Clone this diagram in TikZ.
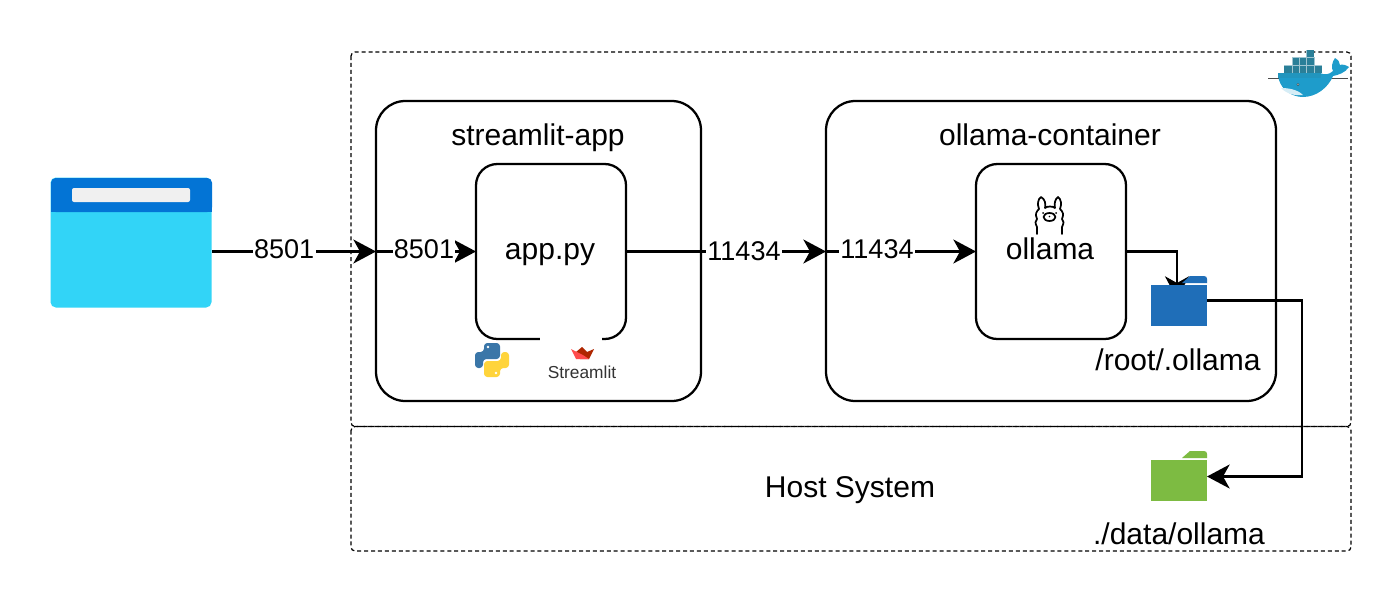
\documentclass[tikz,border=0pt]{standalone}
\usepackage{fontspec}
\setmainfont{Liberation Sans}
\usetikzlibrary{arrows.meta,calc}
\definecolor{dkb}{HTML}{0374D5}
\definecolor{ltb}{HTML}{32D4F7}
\definecolor{fblue}{HTML}{1F6EB8}
\definecolor{fgreen}{HTML}{7DBB42}
\definecolor{whale}{HTML}{1E9CCB}
\definecolor{crate}{HTML}{2A7F98}
\definecolor{pyb}{HTML}{3A76A8}
\definecolor{pyy}{HTML}{FFD43B}
\tikzset{
 x=0.75pt,y=-0.75pt,
 boundary/.style={draw,line width=0.9pt,rounded corners=3pt,dash pattern=on 3pt off 2.2pt},
 bigbox/.style={draw,line width=1.7pt,rounded corners=22pt,inner sep=0pt},
 smallbox/.style={draw,line width=1.7pt,rounded corners=16pt,inner sep=0pt},
 lbl/.style={font=\fontsize{22.5}{26}\selectfont,inner sep=0pt,text height=16pt,text depth=4.5pt},
 port/.style={font=\fontsize{20.3}{24}\selectfont,inner sep=0pt,text height=14.5pt,text depth=4pt,fill=white,inner xsep=1pt},
 conn/.style={line width=1.55pt,-{Stealth[length=17pt,width=18pt,inset=5pt]}},
}
\newcommand{\boxat}[6]{\node[#1,minimum width=#4*0.75pt,minimum height=#5*0.75pt] (#6) at (#2,#3) {};}
\begin{document}
\begin{tikzpicture}
\useasboundingbox (0,0) rectangle (1400,600);
\fill[white] (0,0) rectangle (1400,600);
% dashed areas
\draw[boundary] (351,52) rectangle (1351,426.5);
\draw[boundary] (351,426.5) rectangle (1351,551);
% boxes
\boxat{bigbox}{538.5}{251}{325}{300}{sapp}
\boxat{smallbox}{551}{251.5}{150}{175}{apppy}
\boxat{bigbox}{1051}{251}{450}{300}{ocont}
\boxat{smallbox}{1051}{251.5}{150}{175}{oll}
\fill[white] (540,334) rectangle (602,346);
\node[lbl] (tapp) at (538,137.5) {streamlit-app};
\node[lbl] (tcont) at (1050,137.5) {ollama-container};
\node[lbl] (tpy) at (550,252) {app.py};
\node[lbl] (toll) at (1050,252) {ollama};
\node[lbl] (thost) at (850,490) {Host System};
\node[lbl] (troot) at (1178,362.5) {/root/.ollama};
\node[lbl] (tdata) at (1179,536.5) {./data/ollama};
% browser
\node[fill=ltb,rounded corners=4pt,minimum width=120.75pt,minimum height=97.5pt,inner sep=0pt] (browser) at (131,242.5) {};
\fill[dkb,rounded corners=3.5pt] (51,212) -- (51,178) -- (212,178) -- (212,212) -- cycle;
\fill[dkb] (51,200) rectangle (212,212);
\fill[white!94!black,rounded corners=1.5pt] (72,188) rectangle (190,202);
% connectors
\coordinate (b1) at (212,251.5);
\coordinate (s1) at (376,251.5);
\coordinate (a1) at (476,251.5);
\coordinate (a2) at (626,251.5);
\coordinate (c1) at (826,251.5);
\coordinate (o1) at (976,251.5);
\coordinate (o2) at (1126,251.5);
\coordinate (fin) at (1177,299);
\coordinate (fout) at (1207,300.5);
\coordinate (gin) at (1207,476.5);
\draw[conn] (b1) -- node[port,pos=.44] {8501} (s1);
\draw[conn] (s1) -- node[port,pos=.48] {8501} (a1);
\draw[conn] (a2) -- node[port,pos=.59,yshift=-1.5pt] {11434} (c1);
\draw[conn] (c1) -- node[port,pos=.34] {11434} (o1);
\draw[conn] (o2) -- (1177,251.5) -- (fin);
\draw[conn] (fout) -- (1302,300.5) -- (1302,476.5) -- (gin);
% folders
\fill[fblue] (1182,283) -- (1190,276) -- (1204,276) .. controls (1206,276) and (1207,277) .. (1207,279) -- (1207,283) -- cycle;
\node[fill=fblue,minimum width=42pt,minimum height=30.75pt,inner sep=0pt] (fblue) at (1179,305.5) {};
\fill[fgreen] (1182,458) -- (1190,451) -- (1204,451) .. controls (1206,451) and (1207,452) .. (1207,454) -- (1207,458) -- cycle;
\node[fill=fgreen,minimum width=42pt,minimum height=30.75pt,inner sep=0pt] (fgreen) at (1179,480.5) {};
% docker
\begin{scope}
\draw[black!70,line width=0.7pt] (1268,78.5) -- (1348,78.5);
\fill[whale] (1278,73) -- (1279,80) .. controls (1282,90) and (1292,97) .. (1303,97) .. controls (1316,97) and (1328,88) .. (1333,76) .. controls (1338,75) and (1345,73) .. (1349,67) .. controls (1346,65) and (1342,64) .. (1340,65) .. controls (1340,62) and (1338,60) .. (1335,58) .. controls (1332,62) and (1331,68) .. (1333,71) .. controls (1329,75) and (1324,75) .. (1320,73) -- cycle;
\fill[whale!75!crate] (1278,73) rectangle (1321,77.5);
\fill[white!82!whale] (1281,88) .. controls (1287,88) and (1297,89) .. (1303,95) .. controls (1295,96) and (1287,94) .. (1281,88) -- cycle;
\fill[black!75] (1298,84.5) circle (1.4);
\fill[white] (1298,84.3) circle (.6);
\fill[crate] (1284,65) rectangle (1322,73);
\fill[crate] (1292,57) rectangle (1314,65);
\fill[crate] (1306,50) rectangle (1314,57);
\draw[white!55!crate,line width=0.3pt] (1292,57)--(1292,73) (1299,57)--(1299,73) (1306,50)--(1306,73) (1314,57)--(1314,73) (1284,65)--(1322,65) (1292,57)--(1314,57);
\end{scope}
% python
\fill[pyb,rounded corners=2.5pt] (484,352) -- (484,343) -- (500,343) -- (500,359) -- (483,359) -- (483,368) -- (475,368) -- (475,352) -- cycle;
\fill[pyy,rounded corners=2.5pt] (500,368) -- (500,377) -- (484,377) -- (484,361) -- (501,361) -- (501,352) -- (509,352) -- (509,368) -- cycle;
\fill[white] (488,347) circle (1.4) (496,373) circle (1.4);
% streamlit
\fill[black!45!red!70!orange] (576,352) -- (582,347) -- (587,352) -- (594,349) -- (589,359) -- (580,359) -- cycle;
\fill[red!70!white] (571,349) -- (583,355) -- (589,359) -- (576,359) -- cycle;
\node[font=\fontsize{13}{15}\selectfont,text=black!80,inner sep=0pt] (tst) at (582,372) {Streamlit};
% llama
\begin{scope}[line width=1.3pt,line cap=round,line join=round]
\draw (1037,234) -- (1037,227) .. controls (1035,223) and (1035,221) .. (1037,219) .. controls (1035,214) and (1036,212) .. (1039,209) .. controls (1037,204) and (1038,199) .. (1041,197) .. controls (1045,199) and (1046,204) .. (1045,208) .. controls (1047,206) and (1053,206) .. (1055,208) .. controls (1054,204) and (1055,199) .. (1058,197) .. controls (1061,199) and (1062,204) .. (1060,209) .. controls (1063,212) and (1064,214) .. (1062,219) .. controls (1064,221) and (1064,223) .. (1062,227) -- (1062,234);
\draw (1049.5,217) ellipse (6 and 4);
\fill (1043,213) circle (1) (1056,213) circle (1) (1049.5,216.5) circle (0.8);
\end{scope}
\end{tikzpicture}
\end{document}
